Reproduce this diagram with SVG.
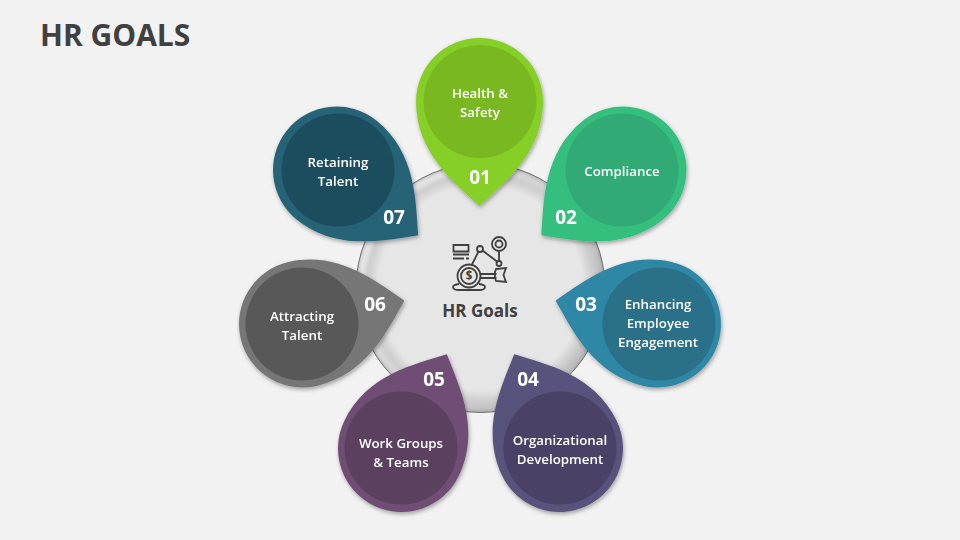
<svg xmlns="http://www.w3.org/2000/svg" xmlns:xlink="http://www.w3.org/1999/xlink" width="960" height="540" viewBox="0 0 960 540">
<style>
text{font-family:"Open Sans","Noto Sans","Liberation Sans",sans-serif;text-anchor:middle}
.l{font-size:13.300px;font-weight:600;fill:#fff}
.n{font-size:19px;font-weight:700;fill:#fff}
.ic{fill:none;stroke:#404040;stroke-width:1.800}
</style>
<defs>
<path id="drop" d="M0,104.500C-24,82-63.500,52-63.500,0A63.500,63.500 0 1 1 63.500,0C63.500,52 24,82 0,104.500Z"/>
<filter id="sh" x="-30%" y="-30%" width="160%" height="160%"><feDropShadow dx="1" dy="2" stdDeviation="2" flood-color="#000" flood-opacity=".35"/></filter>
<filter id="soft" x="-10%" y="-10%" width="120%" height="120%"><feGaussianBlur stdDeviation="2"/></filter>
<radialGradient id="ring" gradientUnits="userSpaceOnUse" cx="480.500" cy="288" r="124.500">
<stop offset="0" stop-color="#e6e6e6"/><stop offset=".82" stop-color="#e6e6e6"/><stop offset=".97" stop-color="#bcbcbc"/><stop offset="1" stop-color="#aaaaaa"/>
</radialGradient>
<linearGradient id="lit" gradientUnits="userSpaceOnUse" x1="356" y1="200" x2="560" y2="340">
<stop offset="0" stop-color="#fff" stop-opacity=".75"/><stop offset="1" stop-color="#fff" stop-opacity="0"/>
</linearGradient>
</defs>
<rect width="960" height="540" fill="#f2f2f2"/>
<text x="40" y="46" style="text-anchor:start;font-size:30px;font-weight:700;fill:#404040">HR GOALS</text>
<g id="center">
<circle cx="480.500" cy="288" r="124.500" fill="url(#ring)"/>
<circle cx="480.500" cy="288" r="120" fill="none" stroke="url(#lit)" stroke-width="8" filter="url(#soft)"/>
<circle cx="480.500" cy="288" r="124.500" fill="none" stroke="#555" stroke-width=".8"/>
<text x="480" y="317" style="font-size:17px;font-weight:700;fill:#404040">HR Goals</text>
<g id="icon" class="ic">
<path d="M453.500 245h15v6.500h-15zM453 254.500h16M453 258.500h11M466 258.500h3"/>
<circle cx="480" cy="249" r="3"/><circle cx="499" cy="244" r="7"/><circle cx="499" cy="244" r="3.500"/><circle cx="499" cy="263.500" r="2.500"/>
<path d="M478.500 251.500l-7 14M482.500 250.500l14.500 11M499 251v10"/>
<circle cx="469" cy="276" r="11.500"/><circle cx="469" cy="276" r="8"/>
<path d="M480.500 274h16M480.500 278h16M496 269l10-1-2.500 7 2.500 7-10-1-1-3v-6z"/>
<path d="M459 284c-9 1-7 6 0 6h20c7 0 9-5 0-6"/>
<text x="469" y="280" style="font-size:11.500px;font-weight:700;fill:#404040;stroke:none">$</text>
</g>
</g>
<g id="node-07" filter="url(#sh)"><use xlink:href="#drop" transform="translate(336.500,170) rotate(-51.430)" fill="#256377"/><circle cx="338" cy="170" r="56.500" fill="#1d4e5f"/><text class="l" x="338" y="166.500">Retaining</text><text class="l" x="338" y="185.500">Talent</text><text class="n" x="394" y="224">07</text></g>
<g id="node-06" filter="url(#sh)"><use xlink:href="#drop" transform="translate(302.500,324) rotate(-102.860)" fill="#767676"/><circle cx="302" cy="324" r="56.500" fill="#595959"/><text class="l" x="302" y="320.500">Attracting</text><text class="l" x="302" y="339.500">Talent</text><text class="n" x="375" y="311">06</text></g>
<g id="node-05" filter="url(#sh)"><use xlink:href="#drop" transform="translate(401.500,448.500) rotate(-154.290)" fill="#6f4e74"/><circle cx="401" cy="448" r="56.500" fill="#5b4160"/><text class="l" x="401" y="447.500">Work Groups</text><text class="l" x="401" y="466.500">&amp; Teams</text><text class="n" x="434" y="386">05</text></g>
<g id="node-04" filter="url(#sh)"><use xlink:href="#drop" transform="translate(559.500,448.500) rotate(154.290)" fill="#58527d"/><circle cx="560" cy="448" r="56.500" fill="#484366"/><text class="l" x="560" y="444.500">Organizational</text><text class="l" x="560" y="463.500">Development</text><text class="n" x="528" y="386">04</text></g>
<g id="node-03" filter="url(#sh)"><use xlink:href="#drop" transform="translate(657.500,324) rotate(102.860)" fill="#2f87a5"/><circle cx="659" cy="324" r="56.500" fill="#2a6f88"/><text class="l" x="658" y="308.500">Enhancing</text><text class="l" x="658" y="327.500">Employee</text><text class="l" x="658" y="346.500">Engagement</text><text class="n" x="586" y="311">03</text></g>
<g id="node-02" filter="url(#sh)"><use xlink:href="#drop" transform="translate(623,170) rotate(51.430)" fill="#34bf7f"/><circle cx="622" cy="170" r="56.500" fill="#30aa75"/><text class="l" x="622" y="175.500">Compliance</text><text class="n" x="566" y="224">02</text></g>
<g id="node-01" filter="url(#sh)"><use xlink:href="#drop" transform="translate(479.500,101.500)" fill="#86cf26"/><circle cx="480" cy="101.500" r="56.500" fill="#7ab821"/><text class="l" x="480" y="97.500">Health &amp;</text><text class="l" x="480" y="116.500">Safety</text><text class="n" x="480" y="184">01</text></g>
</svg>
